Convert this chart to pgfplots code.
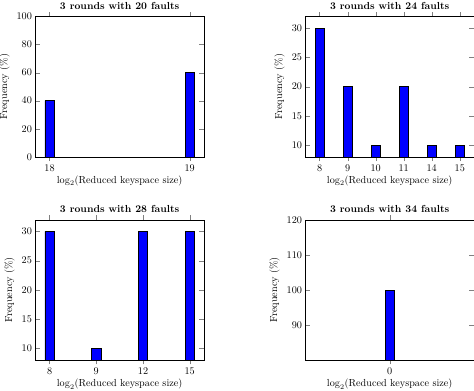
\documentclass[border=0pt]{standalone}
\usepackage{pgfplots}
\pgfplotsset{compat=1.18}
\begin{document}
\begin{tikzpicture}
\pgfplotsset{
  myax/.style={
    ybar, scale only axis, width=164.7pt, height=137.3pt,
    anchor=north west, bar width=9pt,
    title style={font=\bfseries, yshift=-2.5pt},
    xlabel style={yshift=3pt},
    ylabel={Frequency (\%)},
    xlabel={$\log_2$(Reduced keyspace size)},
    xtick=data,
  }
}
\begin{axis}[myax, at={(0pt,0pt)}, title={3 rounds with 20 faults},
  xmin=-0.1, xmax=1.1, ymin=0, ymax=100, xticklabels={18,19}]
\addplot[fill=blue, draw=black] coordinates {(0,40) (1,60)};
\end{axis}
\begin{axis}[myax, at={(264.4pt,0pt)}, title={3 rounds with 24 faults},
  xmin=-0.5, xmax=5.5, ymin=8, ymax=32, ytick={10,15,20,25,30}, xticklabels={8,9,10,11,14,15}]
\addplot[fill=blue, draw=black] coordinates {(0,30) (1,20) (2,10) (3,20) (4,10) (5,10)};
\end{axis}
\begin{axis}[myax, at={(0pt,-199pt)}, title={3 rounds with 28 faults},
  xmin=-0.3, xmax=3.3, ymin=8, ymax=32, ytick={10,15,20,25,30}, xticklabels={8,9,12,15}]
\addplot[fill=blue, draw=black] coordinates {(0,30) (1,10) (2,30) (3,30)};
\end{axis}
\begin{axis}[myax, at={(264.4pt,-199pt)}, title={3 rounds with 34 faults},
  xmin=-1, xmax=1, ymin=80, ymax=120, ytick={90,100,110,120}, xticklabels={0}]
\addplot[fill=blue, draw=black] coordinates {(0,100)};
\end{axis}
\pgfresetboundingbox
\path[use as bounding box] (-34.8pt,16.2pt) rectangle (429.3pt,-366pt);
\end{tikzpicture}
\end{document}
